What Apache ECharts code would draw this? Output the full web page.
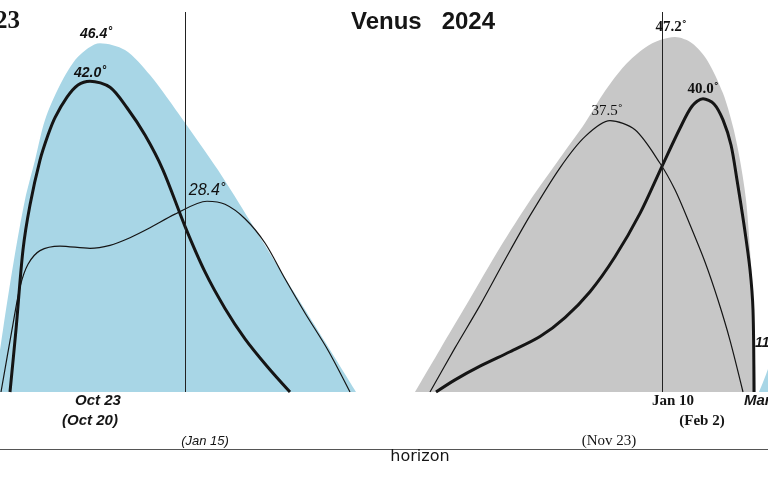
<!DOCTYPE html>
<html>
<head>
<meta charset="utf-8">
<script src="https://cdn.jsdelivr.net/npm/echarts@6/dist/echarts.min.js"></script>
<style>
    html, body { margin: 0; padding: 0; background: #fff; }
    #chart { width: 768px; height: 478px; }
</style>
</head>
<body>
<div id="chart"></div>
<script>
// altitude (deg) against a running day scale
const env2023 = [[-6,0],[3,8.2],[14,17.4],[25,25.3],[35,30.5],[45,35.8],[60,40.4],[78,44.1],[100,45.9],[125,45.0],[150,41.7],[183,35.8],[218,29.2],[250,22.5],[280,16.1],[299,12.1],[325,6.6],[356,0]];
const thick2023 = [[10,0],[16,8.2],[23,18.7],[30,24.6],[40,30.5],[48,33.8],[55,36.1],[67,38.8],[78,40.4],[90,40.9],[110,40.1],[127,37.4],[145,33.8],[163,29.2],[185,21.8],[205,15.8],[225,11.0],[245,7.0],[267,3.4],[290,0]];
const thin2023 = [[1,0],[12,8.2],[20,13.8],[28,16.8],[40,18.6],[60,19.2],[90,18.9],[110,19.3],[130,20.3],[150,21.6],[175,23.4],[207,25.1],[225,24.7],[245,22.8],[265,19.6],[285,14.9],[305,10.4],[328,5.5],[350,0]];

const env2024 = [[415,0],[440,5.6],[467,11.6],[500,19.0],[530,25.2],[560,30.8],[585,35.4],[605,39.6],[625,43.0],[645,45.3],[660,46.3],[675,46.7],[692,45.9],[707,43.7],[723,39.3],[733,34.9],[740,30.5],[746,25.3],[750,18.7],[753,12.1],[756,0]];
const thin2024 = [[430,0],[455,5.8],[480,11.4],[505,17.4],[530,23.2],[560,29.5],[585,33.6],[610,35.7],[635,34.5],[660,30.1],[675,26.6],[690,22.0],[705,17.1],[718,12.1],[730,6.8],[743,0]];
const thick2024 = [[436,0],[455,1.6],[480,3.4],[510,5.3],[540,7.3],[565,9.8],[590,13.2],[615,17.8],[640,23.5],[662,29.7],[680,34.7],[692,37.6],[703,38.6],[714,37.9],[723,35.8],[731,32.5],[737,27.9],[744,22.0],[750,16.1],[753,10.8],[754,0]];

const env2025 = [[759,0],[764,1.6],[772,4.5]];

const peakLabels = ['46.4˚', '42.0˚', '28.4˚', '47.2˚', '37.5˚', '40.0˚'];
const markerDays = [185, 662];
const dateTexts = ['Oct 23', '(Oct 20)', '(Jan 15)', 'Jan 10', '(Feb 2)', '(Nov 23)', 'Mar 23'];

let chart = echarts.init(document.getElementById('chart'));

function peak(text, font, offset) {
    return {
        symbol: 'circle',
        symbolSize: 1,
        itemStyle: {color: 'rgba(0,0,0,0)'},
        data: [{type: 'max', valueDim: 'y'}],
        label: {
            show: true,
            position: 'top',
            distance: 2,
            offset: offset || [0, 0],
            formatter: text,
            color: '#111',
            fontFamily: font.family,
            fontSize: font.size,
            fontWeight: font.weight,
            fontStyle: font.style
        }
    };
}

const sansBI = {family: 'Liberation Sans', size: 14, weight: 'bold', style: 'italic'};
const sansI = {family: 'Liberation Sans', size: 16, weight: 'normal', style: 'italic'};
const serifB = {family: 'Liberation Serif', size: 15, weight: 'bold', style: 'normal'};
const serif = {family: 'Liberation Serif', size: 15, weight: 'normal', style: 'normal'};

function area(name, data, color, mark) {
    return {
        name: name,
        type: 'line',
        data: data,
        smooth: 0.3,
        symbol: 'none',
        lineStyle: {width: 0, opacity: 0},
        areaStyle: {color: color, opacity: 1},
        markPoint: mark,
        z: 1
    };
}

function curve(name, data, width, mark, extra) {
    return Object.assign({
        name: name,
        type: 'line',
        data: data,
        smooth: 0.3,
        symbol: 'none',
        lineStyle: {width: width, color: '#151515'},
        markPoint: mark,
        z: 3
    }, extra || {});
}

function txt(text, x, y, font, align) {
    return {
        type: 'text',
        x: x,
        y: y,
        style: {
            text: text,
            font: font,
            fill: '#151515',
            textAlign: align || 'center',
            textVerticalAlign: 'middle'
        }
    };
}

const option = {
    animation: false,
    backgroundColor: '#fff',
    grid: {left: 0, right: 0, top: 12, bottom: 86},
    xAxis: {type: 'value', min: 0, max: 768, show: false},
    yAxis: {type: 'value', min: 0, max: 50, show: false},
    series: [
        area('2023', env2023, '#a8d6e6', peak(peakLabels[0], sansBI, [-4, 0])),
        area('2024', env2024, '#c7c7c7', peak(peakLabels[3], serifB, [-4, 0])),
        area('2025', env2025, '#a8d6e6'),
        curve('thick2023', thick2023, 3, peak(peakLabels[1], sansBI, [0, 1])),
        curve('thin2023', thin2023, 1.2, peak(peakLabels[2], sansI), {
            markLine: {
                silent: true,
                symbol: 'none',
                label: {show: false},
                lineStyle: {color: '#222', width: 1, type: 'solid'},
                data: markerDays.map(d => ({xAxis: d}))
            }
        }),
        curve('thin2024', thin2024, 1.2, peak(peakLabels[4], serif, [-3, 0])),
        curve('thick2024', thick2024, 3, peak(peakLabels[5], serifB))
    ],
    graphic: [
        txt('Venus   2024', 423, 22, 'bold 24px "Liberation Sans"'),
        txt('23', 20, 22, 'bold 25px "Liberation Serif"', 'right'),
        txt(dateTexts[0], 98, 401, 'italic bold 15px "Liberation Sans"'),
        txt(dateTexts[1], 90, 421, 'italic bold 15px "Liberation Sans"'),
        txt(dateTexts[2], 205, 441, 'italic 13px "Liberation Sans"'),
        txt(dateTexts[3], 673, 401, 'bold 15px "Liberation Serif"'),
        txt(dateTexts[4], 702, 421, 'bold 15px "Liberation Serif"'),
        txt(dateTexts[5], 609, 441, '15px "Liberation Serif"'),
        txt(dateTexts[6], 744, 401, 'italic bold 15px "Liberation Sans"', 'left'),
        txt('11.0˚', 755, 343, 'italic bold 14px "Liberation Sans"', 'left'),
        {
            type: 'line',
            shape: {x1: 0, y1: 449.5, x2: 768, y2: 449.5},
            style: {stroke: '#555', lineWidth: 1}
        },
        txt('horizon', 420, 457, '16px "DejaVu Sans"')
    ]
};

chart.setOption(option);
window.addEventListener('resize', function () {
    chart.resize();
});
</script>
</body>
</html>
